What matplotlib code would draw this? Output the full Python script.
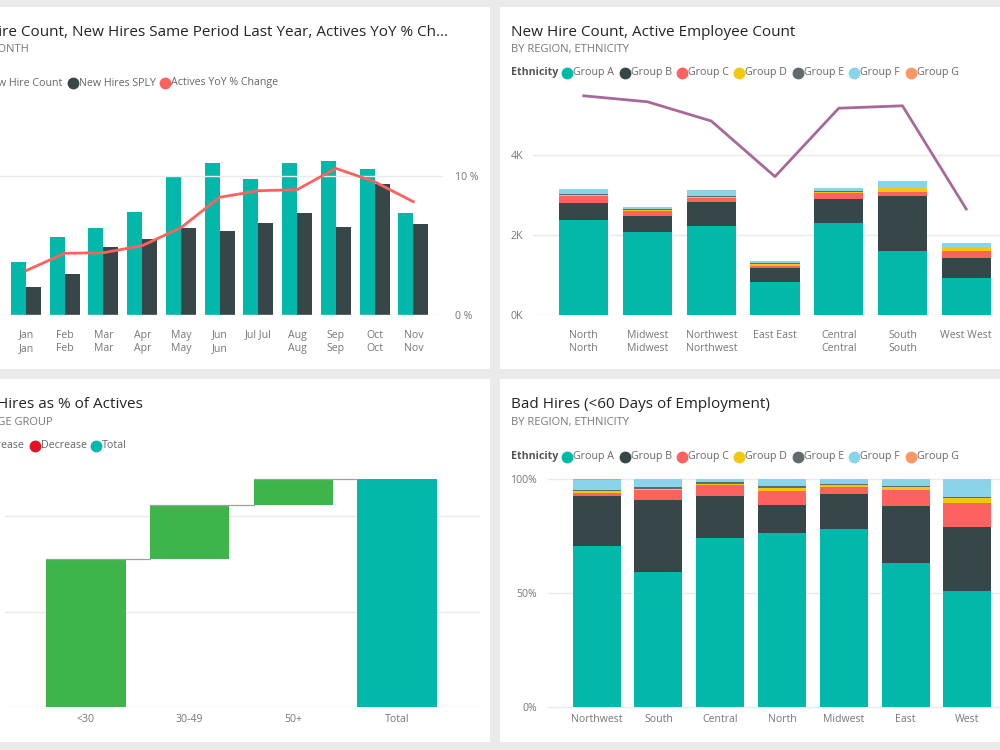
import matplotlib
matplotlib.use("Agg")
import matplotlib.pyplot as plt
from matplotlib.patches import Rectangle
from matplotlib.lines import Line2D
import numpy as np

plt.rcParams['font.family'] = ['Open Sans', 'DejaVu Sans']

# ---- data ----
months = ["Jan\nJan", "Feb\nFeb", "Mar\nMar", "Apr\nApr", "May\nMay", "Jun\nJun",
          "Jul Jul", "Aug\nAug", "Sep\nSep", "Oct\nOct", "Nov\nNov"]
new_hires = [153, 224, 250, 296, 398, 438, 392, 438, 443, 421, 293]
new_hires_sply = [80, 117, 196, 218, 251, 241, 264, 293, 254, 378, 262]
actives_yoy = [3.19, 4.44, 4.48, 4.99, 6.28, 8.47, 8.94, 9.02, 10.55, 9.59, 8.15]

regions_tr = ["North\nNorth", "Midwest\nMidwest", "Northwest\nNorthwest", "East East",
              "Central\nCentral", "South\nSouth", "West West"]
groups = ["Group A", "Group B", "Group C", "Group D", "Group E", "Group F", "Group G"]
# new hire count (K) by region and ethnicity group
hires_by_group = [
    [2.38, 2.07, 2.23, 0.83, 2.29, 1.61, 0.93],   # Group A
    [0.42, 0.40, 0.60, 0.335, 0.61, 1.36, 0.50],  # Group B
    [0.17, 0.13, 0.085, 0.06, 0.15, 0.115, 0.175],  # Group C
    [0.03, 0.03, 0.04, 0.06, 0.03, 0.085, 0.07],  # Group D
    [0.02, 0.02, 0.015, 0.01, 0.02, 0.005, 0.01],  # Group E
    [0.13, 0.05, 0.15, 0.06, 0.07, 0.165, 0.11],  # Group F
    [0.01, 0.01, 0.005, 0.0, 0.01, 0.0, 0.0],     # Group G
]
active_employees = [5.48, 5.33, 4.85, 3.46, 5.17, 5.23, 2.65]

age_groups = ["<30", "30-49", "50+", "Total"]
age_values = [7.73, 2.84, 1.34]

regions_br = ["Northwest", "South", "Central", "North", "Midwest", "East", "West"]
# bad hires share (%) by region and ethnicity group
bad_by_group = [
    [70.4, 59.3, 73.9, 76.4, 78.0, 63.0, 51.0],
    [21.9, 31.4, 18.5, 12.1, 15.2, 25.2, 28.0],
    [1.3, 4.2, 4.9, 6.3, 3.3, 6.9, 10.2],
    [1.0, 0.8, 0.4, 1.0, 0.7, 1.4, 2.2],
    [0.3, 0.5, 0.7, 1.1, 0.7, 0.2, 0.4],
    [4.7, 3.8, 1.3, 3.1, 2.0, 3.3, 8.2],
    [0.4, 0.0, 0.3, 0.0, 0.1, 0.0, 0.0],
]

TEAL = "#01B8AA"
DARK = "#374649"
group_colors = ["#01B8AA", "#374649", "#FD625E", "#F2C80F", "#5F6B6D", "#8AD4EB", "#FE9666"]
GRID = "#EAEAEA"
LABEL = "#777777"
TITLE = "#252423"
LEG = 7.7

W, H = 1000, 750
fig = plt.figure(figsize=(10, 7.5), dpi=100)
fig.patch.set_facecolor("#EAEAEA")


def fx(px):
    return px / W


def fy(py):
    return 1 - py / H


def add_ax(x0, y0, x1, y1):
    return fig.add_axes([fx(x0), fy(y1), (x1 - x0) / W, (y1 - y0) / H])


def panel(x0, y0, x1, y1):
    fig.add_artist(Rectangle((fx(x0), fy(y1)), (x1 - x0) / W, (y1 - y0) / H,
                             transform=fig.transFigure, facecolor="white",
                             edgecolor="none", zorder=0))


def text(x, y, s, **kw):
    fig.text(fx(x), fy(y), s, va="center", **kw)


def dot(x, y, color):
    fig.add_artist(Line2D([fx(x)], [fy(y)], marker="o", ms=7.5, color=color,
                          transform=fig.transFigure, linestyle="none"))


def clean(ax):
    for s in ax.spines.values():
        s.set_visible(False)
    ax.tick_params(length=0, colors=LABEL, labelsize=7.6)
    ax.set_facecolor("none")


panel(0, 7, 490, 369)
panel(500, 7, 1000, 369)
panel(0, 379, 490, 742)
panel(500, 379, 1000, 742)

# ---- top left: monthly hires ----
text(448, 32, "New Hire Count, New Hires Same Period Last Year, Actives YoY % Ch...",
     ha="right", fontsize=11, color=TITLE)
text(29, 49.5, "BY MONTH", ha="right", fontsize=8, color=LABEL)
text(62, 83, "New Hire Count", ha="right", fontsize=LEG, color="#666666")
dot(-25, 83, TEAL)
dot(72.7, 83, DARK)
text(79, 83, "New Hires SPLY", fontsize=LEG, color="#666666")
dot(165, 83, "#FD625E")
text(171, 83, "Actives YoY % Change", fontsize=LEG, color="#666666")

ax1 = add_ax(-3.7, 110, 443, 315)
x = np.arange(len(months))
bw = 0.387
ax1.bar(x - bw / 2, new_hires, bw, color=TEAL, zorder=2)
ax1.bar(x + bw / 2, new_hires_sply, bw, color=DARK, zorder=2)
ax1.set_xlim(-0.767, len(months) - 1 + 0.767)
ax1.set_ylim(0, 590)
ax1.set_yticks([])
ax1.set_xticks(x)
ax1.set_xticklabels(months, linespacing=1.35)
clean(ax1)
ax1.tick_params(axis="x", pad=10.5)
ax1b = ax1.twinx()
ax1b.plot(x, actives_yoy, color="#FD625E", lw=2, zorder=3)
ax1b.set_ylim(0, 14.75)
ax1b.set_yticks([0, 10])
ax1b.set_yticklabels(["0 %", "10 %"])
clean(ax1b)
ax1b.tick_params(axis="y", pad=8.5)
for v in [0, 10]:
    ax1b.axhline(v, color=GRID, lw=1, zorder=0)
ax1.set_zorder(1)
ax1b.set_zorder(2)

# ---- top right: hires by region ----
text(511, 32, "New Hire Count, Active Employee Count", fontsize=11, color=TITLE)
text(511, 49.5, "BY REGION, ETHNICITY", fontsize=8, color=LABEL)


def eth_legend(y):
    text(511, y, "Ethnicity", fontsize=LEG, color="#555555", fontweight="bold")
    for gx, g, c in zip([566.7, 625, 681.7, 739.3, 797.7, 854, 910.7], groups, group_colors):
        dot(gx, y, c)
        text(gx + 6, y, g, fontsize=LEG, color="#666666")


eth_legend(73)
ax2 = add_ax(533, 88, 1017, 315)
xr = np.arange(len(regions_tr))
bottom = np.zeros(len(regions_tr))
for vals, c in zip(hires_by_group, group_colors):
    ax2.bar(xr, vals, 0.77, bottom=bottom, color=c, zorder=2)
    bottom += np.array(vals)
ax2.plot(xr, active_employees, color="#A66999", lw=2, zorder=3)
ax2.set_xlim(-0.797, len(regions_tr) - 1 + 0.797)
ax2.set_ylim(0, 5.675)
ax2.set_yticks([0, 2, 4])
ax2.set_yticklabels(["0K", "2K", "4K"])
ax2.set_xticks(xr)
ax2.set_xticklabels(regions_tr, linespacing=1.35)
clean(ax2)
ax2.tick_params(axis="y", pad=7.2)
ax2.tick_params(axis="x", pad=10.5)
for v in [0, 2, 4]:
    ax2.axhline(v, color=GRID, lw=1, zorder=0)

# ---- bottom left: waterfall ----
text(143, 405, "New Hires as % of Actives", ha="right", fontsize=11, color=TITLE)
text(53, 422.5, "BY AGE GROUP", ha="right", fontsize=8, color=LABEL)
text(24, 446, "Increase", ha="right", fontsize=LEG, color="#666666")
dot(-40, 446, "#3DB54A")
dot(35, 446, "#E81123")
text(41, 446, "Decrease", fontsize=LEG, color="#666666")
dot(96, 446, TEAL)
text(102, 446, "Total", fontsize=LEG, color="#666666")

ax3 = add_ax(5, 470, 480, 707.3)
xa = np.arange(len(age_groups))
starts = np.concatenate([[0], np.cumsum(age_values)[:-1]])
total = sum(age_values)
ax3.bar(xa[:3], age_values, 0.765, bottom=starts, color="#3DB54A", zorder=2)
ax3.bar(xa[3], total, 0.765, color=TEAL, zorder=2)
ends = np.cumsum(age_values)
for i, lvl in enumerate(ends):
    ax3.plot([xa[i] - 0.3825, xa[i + 1] - 0.3825], [lvl, lvl], color="#A0A0A0", lw=0.9, zorder=3)
ax3.set_xlim(-0.78, 3.8)
ax3.set_ylim(0, 12.4)
ax3.set_yticks([])
ax3.set_xticks(xa)
ax3.set_xticklabels(age_groups)
clean(ax3)
ax3.tick_params(axis="x", pad=5)
for v in [0, 5, 10]:
    ax3.axhline(v, color=GRID, lw=1, zorder=0)

# ---- bottom right: bad hires ----
text(511, 405, "Bad Hires (<60 Days of Employment)", fontsize=11, color=TITLE)
text(511, 422.5, "BY REGION, ETHNICITY", fontsize=8, color=LABEL)
eth_legend(456.7)

ax4 = add_ax(548, 478.7, 1016, 707.3)
xb = np.arange(len(regions_br))
bottom = np.zeros(len(regions_br))
for vals, c in zip(bad_by_group, group_colors):
    ax4.bar(xb, vals, 0.776, bottom=bottom, color=c, zorder=2)
    bottom += np.array(vals)
ax4.set_xlim(-0.787, len(regions_br) - 1 + 0.787)
ax4.set_ylim(0, 100)
ax4.set_yticks([0, 50, 100])
ax4.set_yticklabels(["0%", "50%", "100%"])
ax4.set_xticks(xb)
ax4.set_xticklabels(regions_br)
clean(ax4)
ax4.tick_params(axis="y", pad=8)
ax4.tick_params(axis="x", pad=5)
for v in [0, 50, 100]:
    ax4.axhline(v, color=GRID, lw=1, zorder=0, clip_on=False)

fig.savefig("out.png", dpi=100, facecolor=fig.get_facecolor())
